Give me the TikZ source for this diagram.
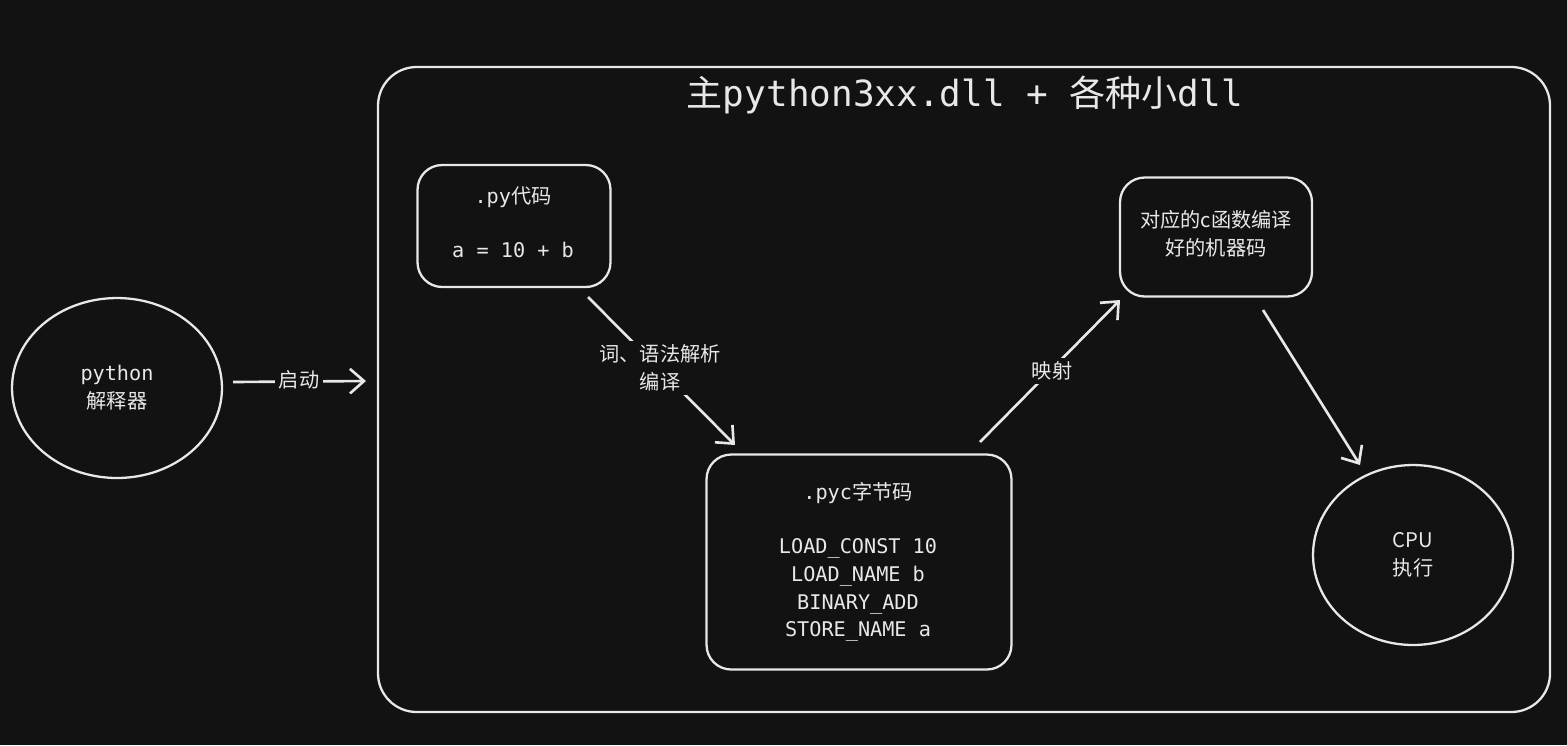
\documentclass[tikz,border=0pt]{standalone}
\usepackage{fontspec}
\setmainfont{Noto Sans CJK SC}
\newfontfamily\mono{DejaVu Sans Mono}
\usetikzlibrary{arrows.meta,shapes.geometric}
\definecolor{bg}{HTML}{121212}
\definecolor{fg}{HTML}{E8E8E8}
\tikzset{
  box/.style={draw=fg,line width=1.3pt,rounded corners=14pt,fill=bg},
  ell/.style={draw=fg,line width=1.3pt,ellipse,fill=bg},
  txt/.style={text=fg,font=\fontsize{11.5}{16}\selectfont,align=center},
  lbl/.style={txt,fill=bg,inner sep=2pt},
  arr/.style={draw=fg,line width=1.5pt,-{Straight Barb[length=8pt,width=14pt]}},
}
\begin{document}
\begin{tikzpicture}[x=0.02cm,y=-0.02cm]
\fill[bg] (0,0) rectangle (1567,745);
\useasboundingbox (0,0) rectangle (1567,745);
\draw[fg,line width=1.3pt,rounded corners=22pt] (378,67) rectangle (1550,712);
\node[txt,font=\fontsize{20.5}{24}\selectfont] (title) at (965,95) {主{\mono python3xx.dll + }各种小{\mono dll}};
\node[ell,minimum width=4.2cm,minimum height=3.6cm] (py) at (117,388) {};
\node[txt] at (117,388) {{\mono python}\\解释器};
\node[ell,minimum width=4cm,minimum height=3.6cm] (cpu) at (1413,555) {};
\node[txt] at (1413,555) {CPU\\执行};
\node[box,minimum width=3.86cm,minimum height=2.44cm] (src) at (514,226) {};
\node[txt] at (513,197) {{\mono .py}代码};
\node[txt,font=\mono\fontsize{11.5}{16}\selectfont] at (513,250) {a = 10 + b};
\node[box,minimum width=6.1cm,minimum height=4.3cm] (pyc) at (859,562) {};
\node[txt] at (858,493) {{\mono .pyc}字节码};
\node[txt,font=\mono\fontsize{11.5}{15.8}\selectfont] at (858,590) {LOAD\_CONST 10\\LOAD\_NAME b\\BINARY\_ADD\\STORE\_NAME a};
\node[box,minimum width=3.84cm,minimum height=2.38cm] (mc) at (1216,237) {};
\node[txt] at (1216,234) {对应的c函数编译\\好的机器码};
\coordinate (s1) at (233,382);
\coordinate (e1) at (366,381);
\draw[arr] (s1) -- (e1);
\node[lbl] (l1) at (299,380) {启动};
\coordinate (s2) at (588,297); \coordinate (e2) at (735,445);
\draw[arr] (s2) -- (e2);
\node[lbl] (l2) at (660,368) {词、语法解析\\编译};
\coordinate (s3) at (980,442); \coordinate (e3) at (1120,300);
\draw[arr] (s3) -- (e3);
\node[lbl] (l3) at (1052,371) {映射};
\coordinate (s4) at (1263,310); \coordinate (e4) at (1360,465);
\draw[arr] (s4) -- (e4);
\end{tikzpicture}
\end{document}
